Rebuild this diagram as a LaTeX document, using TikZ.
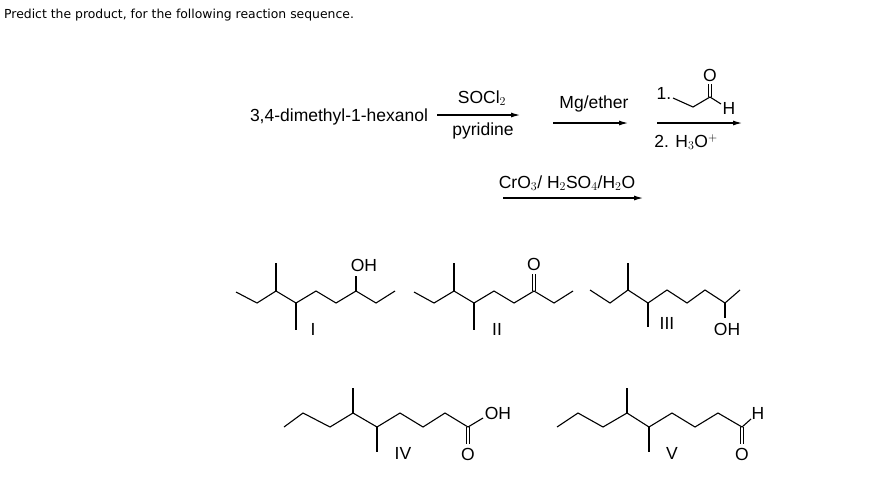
\documentclass[tikz,border=0pt]{standalone}
\usepackage{fontspec}
\usetikzlibrary{arrows.meta}
\setmainfont{Liberation Sans}
\newfontfamily\hdr{DejaVu Sans}
\begin{document}
\begin{tikzpicture}[x=1pt,y=-1pt,
  bd/.style={line width=1.1pt},
  lb/.style={inner sep=0pt,font=\fontsize{17.5}{20}\selectfont},
  ar/.style={line width=1.1pt,-{Latex[length=9pt,width=5pt]}}]
\useasboundingbox[fill=white] (0,0) rectangle (890,488);
\node[anchor=west,inner sep=0pt,font=\hdr\fontsize{12.4}{14}\selectfont] (hd) at (4,15) {Predict the product, for the following reaction sequence.};
% top reaction
\node[lb] (start) at (339,117) {3,4-dimethyl-1-hexanol};
\coordinate (a1s) at (437,115); \coordinate (a1e) at (520,115);
\draw[ar] (a1s) -- (a1e);
\node[lb] (socl) at (482,98) {SOCl$_2$};
\node[lb] (pyr) at (483,131) {pyridine};
\coordinate (a2s) at (553,123); \coordinate (a2e) at (628,123);
\draw[ar] (a2s) -- (a2e);
\node[lb] (mg) at (594,104) {Mg/ether};
\coordinate (a3s) at (657,123); \coordinate (a3e) at (742,123);
\draw[ar] (a3s) -- (a3e);
\node[lb] (h3o) at (686,142) {2. H$_3$O$^+$};
\node[lb] (one) at (664,93) {1.};
\coordinate (p1) at (673,98); \coordinate (p2) at (693,107); \coordinate (p3) at (710,97); \coordinate (p4) at (721,104);
\node[lb] (pO) at (710,75) {O};
\node[lb] (pH) at (729,108) {H};
\draw[bd] (p1)--(p2)--(p3)--(p4);
\draw[bd] ([xshift=-1.8]p3) -- ([xshift=-1.8]710,84);
\draw[bd] ([xshift=1.8]p3) -- ([xshift=1.8]710,84);
\coordinate (a4s) at (503,198); \coordinate (a4e) at (643,198);
\draw[ar] (a4s) -- (a4e);
\node[lb] (cro) at (567,183) {CrO$_3$/ H$_2$SO$_4$/H$_2$O};
% I
\draw[bd] (236,292)--(257,303)--(276,291)--(296,303)--(316,291)--(336,303)--(356,291)--(376,303)--(395,291);
\draw[bd] (276,291)--(276,263); \draw[bd] (296,303)--(296,330); \draw[bd] (356,291)--(356,276);
\node[lb] (ohI) at (364,265) {OH};
\node[lb] (lI) at (313,329) {I};
% II
\draw[bd] (414,292)--(434,303)--(454,291)--(474,303)--(494,291)--(514,303)--(534,291)--(554,303)--(573,291);
\draw[bd] (454,291)--(454,263); \draw[bd] (474,303)--(474,330);
\draw[bd] (532.2,291)--(532.2,274); \draw[bd] (535.8,291)--(535.8,274);
\node[lb] (oII) at (534,264) {O};
\node[lb] (lII) at (497,329) {II};
% III
\draw[bd] (590,290)--(610,303)--(628,290)--(648,303)--(667,290)--(687,303)--(705,290)--(725,303)--(740,290);
\draw[bd] (628,290)--(628,263); \draw[bd] (648,303)--(648,327); \draw[bd] (725,303)--(725,318);
\node[lb] (ohIII) at (727,329) {OH};
\node[lb] (lIII) at (667,323) {III};
% IV
\draw[bd] (284,427)--(303,413)--(330,427)--(353,413)--(377,427)--(400,413)--(423,427)--(445,413)--(468,427)--(483,418);
\draw[bd] (353,413)--(353,388); \draw[bd] (377,427)--(377,452);
\draw[bd] (466.2,427)--(466.2,444); \draw[bd] (469.8,427)--(469.8,444);
\node[lb] (ohIV) at (498,413) {OH};
\node[lb] (oIV) at (468,454) {O};
\node[lb] (lIV) at (403,453) {IV};
% V
\draw[bd] (557,427)--(578,413)--(603,427)--(627,413)--(649,427)--(672,413)--(695,427)--(718,413)--(742,427)--(751,419);
\draw[bd] (627,413)--(627,388); \draw[bd] (649,427)--(649,452);
\draw[bd] (740.2,427)--(740.2,444); \draw[bd] (743.8,427)--(743.8,444);
\node[lb] (hV) at (758,413) {H};
\node[lb] (oV) at (742,454) {O};
\node[lb] (lV) at (672,453) {V};
\end{tikzpicture}
\end{document}
